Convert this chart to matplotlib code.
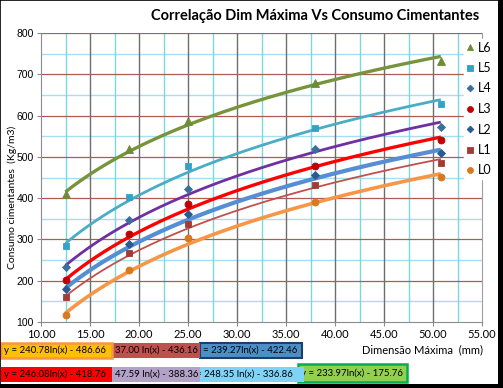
import matplotlib.pyplot as plt
import numpy as np
from matplotlib.patches import Rectangle

plt.rcParams['font.family'] = ['Lato', 'DejaVu Sans']

# dados
dim_max = [12.5, 19, 25, 38, 50.8]
series = ['L6', 'L5', 'L4', 'L3', 'L2', 'L1', 'L0']
consumo = {
    'L6': [411, 518, 588, 680, 731],
    'L5': [283, 403, 477, 571, 628],
    'L4': [233, 348, 423, 519, 572],
    'L3': [201, 313, 387, 479, 540],
    'L2': [181, 290, 361, 455, 509],
    'L1': [160, 267, 338, 433, 485],
    'L0': [116, 227, 303, 390, 451],
}
# tendencia y = a*ln(x) + b
trend_a = {'L6': 233.97, 'L5': 248.35, 'L4': 247.59, 'L3': 246.08,
           'L2': 239.27, 'L1': 237.00, 'L0': 240.78}
trend_b = {'L6': -175.76, 'L5': -336.86, 'L4': -388.36, 'L3': -418.76,
           'L2': -422.46, 'L1': -436.16, 'L0': -486.66}
eq_row1 = ['y = 240.78ln(x) - 486.66', '37.00 ln(x) - 436.16', '= 239.27ln(x) - 422.46']
eq_row2 = ['y = 246.08ln(x) - 418.76', '47.59 ln(x) - 388.36', '= 248.35 ln(x) - 336.86',
           'y = 233.97ln(x) - 175.76']

line_col = {'L6': '#77933C', 'L5': '#4BACC6', 'L4': '#7030A0', 'L3': '#FF0000',
            'L2': '#558ED5', 'L1': '#C0504D', 'L0': '#F79646'}
line_w = {'L6': 2.4, 'L5': 2.0, 'L4': 2.0, 'L3': 2.4, 'L2': 3.0, 'L1': 1.3, 'L0': 2.6}
mk = {'L6': '^', 'L5': 's', 'L4': 'D', 'L3': 'o', 'L2': 'D', 'L1': 's', 'L0': 'o'}
mk_col = {'L6': '#6E8B35', 'L5': '#31A2C8', 'L4': '#3B6E9A', 'L3': '#C00000',
          'L2': '#2A5A91', 'L1': '#A33A36', 'L0': '#D9781E'}
mk_size = {'L6': 5.5, 'L5': 5, 'L4': 4, 'L3': 5, 'L2': 4, 'L1': 5, 'L0': 5}

fig = plt.figure(figsize=(5.03, 3.88), dpi=100)
ax = fig.add_axes([41 / 503, 1 - 322 / 388, 441 / 503, 289 / 388])

ax.set_xlim(10, 55)
ax.set_ylim(100, 800)
ax.set_xticks(np.arange(10, 56, 5))
ax.set_xticklabels(['%.2f' % v for v in np.arange(10, 56, 5)], fontsize=8)
ax.set_yticks(np.arange(100, 801, 100))
ax.set_yticklabels([str(v) for v in range(100, 801, 100)], fontsize=7.5,
                   family='Liberation Sans')

# grelha
for yv in np.arange(150, 800, 100):
    ax.axhline(yv, color='#A8DEF4', lw=1.0, zorder=0)
for yv in np.arange(200, 801, 100):
    ax.axhline(yv, color='#B05A58', lw=0.9, zorder=0.5)
for xv in np.arange(12.5, 55, 5):
    ax.axvline(xv, color='#78D8E2', lw=1.0, zorder=0)
for xv in np.arange(15, 51, 5):
    ax.axvline(xv, color='#6E6E6E', lw=1.0, zorder=0.5)

ax.spines['top'].set_visible(False)
ax.spines['right'].set_color('#A0A0A0')
ax.spines['left'].set_color('#8C8C8C')
ax.spines['bottom'].set_color('#8C8C8C')
ax.tick_params(axis='both', color='#8C8C8C', length=3, pad=2)

xs = np.linspace(dim_max[0], dim_max[-1], 200)
for s in series:
    ax.plot(xs, trend_a[s] * np.log(xs) + trend_b[s], color=line_col[s],
            lw=line_w[s], zorder=2, solid_capstyle='butt')
handles = []
for s in series:
    h, = ax.plot(dim_max, consumo[s], linestyle='none', marker=mk[s],
                 ms=mk_size[s], mfc=mk_col[s], mec=mk_col[s], mew=0.6,
                 zorder=3, label=s)
    handles.append(h)

leg = fig.legend(handles=handles, loc='upper left', bbox_to_anchor=(464 / 503, 1 - 39 / 388),
                 frameon=True, fontsize=9, handlelength=0.6, handletextpad=0.3,
                 labelspacing=0.68, borderpad=0.2, borderaxespad=0, markerscale=0.85)
leg.get_frame().set_facecolor('white')
leg.get_frame().set_edgecolor('white')
leg.get_frame().set_alpha(1)

fig.text(315 / 503, 1 - 16 / 388, 'Correlação Dim Máxima Vs Consumo Cimentantes',
         ha='center', va='center', fontsize=10.5, fontweight='bold')
fig.text(12 / 503, 1 - 197 / 388, 'Consumo cimentantes  (Kg/m3)', rotation=90,
         ha='center', va='center', fontsize=7.5)
fig.text(483 / 503, 1 - 350 / 388, 'Dimensão Máxima  (mm)', ha='right', va='center',
         fontsize=8)

# caixas das equacoes
def eq_box(x0, x1, y0, y1, fc, ec, lw, text, z):
    fig.patches.append(Rectangle((x0 / 503, 1 - y1 / 388), (x1 - x0) / 503, (y1 - y0) / 388,
                                 transform=fig.transFigure, facecolor=fc, edgecolor=ec,
                                 lw=lw, zorder=z))
    fig.text((x0 + 3) / 503, 1 - (y0 + y1) / 2 / 388, text, ha='left',
             va='center', fontsize=6.9, zorder=z + 0.1)

eq_box(200, 302, 343, 358, '#4A90C8', '#1F3F6A', 1.5, eq_row1[2], 10)
eq_box(112, 200, 343, 358, '#C0504D', 'none', 0, eq_row1[1], 11)
eq_box(1, 112, 343, 358, '#FFC000', '#F79646', 1.8, eq_row1[0], 12)

eq_box(298, 407, 364, 382, '#92D050', '#00B050', 1.8, eq_row2[3], 10)
eq_box(193, 304, 367, 382, '#7FD3F7', 'none', 0, eq_row2[2], 11)
eq_box(112, 200, 367, 382, '#B3A2C7', 'none', 0, eq_row2[1], 12)
eq_box(1, 112, 367, 382, '#FF0000', 'none', 0, eq_row2[0], 13)

# moldura
fig.patches.append(Rectangle((0, 0), 1, 1, transform=fig.transFigure, fill=False,
                             edgecolor='black', lw=1.2, zorder=20))
fig.patches.append(Rectangle((498 / 503, 0), 5 / 503, 1, transform=fig.transFigure,
                             facecolor='black', edgecolor='none', zorder=20))
fig.patches.append(Rectangle((0, 0), 1, 4 / 388, transform=fig.transFigure,
                             facecolor='black', edgecolor='none', zorder=20))

fig.savefig('out.png', dpi=100)
